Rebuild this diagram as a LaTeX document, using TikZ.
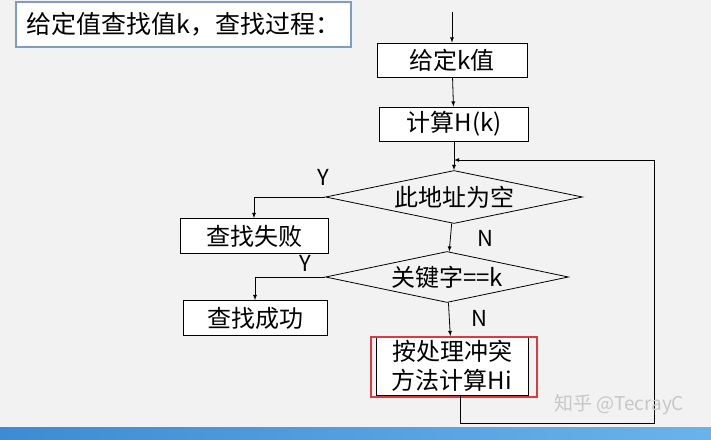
\documentclass[tikz,border=0pt]{standalone}
\usepackage{fontspec}
\setmainfont{Noto Sans CJK SC}
\usetikzlibrary{shapes.geometric}
\definecolor{slidebg}{HTML}{F2F2F2}
\definecolor{titleframe}{HTML}{7F9CC4}
\definecolor{markred}{HTML}{DE3A3E}
\definecolor{barleft}{HTML}{3D8BD3}
\definecolor{barright}{HTML}{6AB3EA}
\tikzset{
  stepbox/.style={draw, line width=0.8pt, fill=white, inner sep=0pt, font=\fontsize{24}{28}\selectfont},
  testbox/.style={diamond, draw, line width=0.8pt, fill=slidebg, inner sep=0pt, shape aspect=5,
                  font=\fontsize{24}{28}\selectfont},
  branch/.style={font=\fontsize{22}{24}\selectfont, inner sep=1pt},
  flow/.style={line width=0.8pt, ->}
}
\begin{document}
\begin{tikzpicture}[x=1pt, y=-1pt, >=latex]
    % slide background and footer bar
    \fill[slidebg] (0,0) rectangle (711,439);
    \shade[left color=barleft, right color=barright] (0,427) rectangle (711,439);
    \useasboundingbox (0,0) rectangle (711,439);

    \node[draw=titleframe, line width=1.5pt, fill=white, minimum width=335pt, minimum height=45pt, inner sep=0pt,
          font=\fontsize{25}{28}\selectfont] (title) at (183.5,24.5) {给定值查找值k，查找过程：};

    \coordinate (start) at (452,12);
    \node[stepbox, minimum width=150pt, minimum height=34pt] (givek) at (452,60) {给定k值};
    \node[stepbox, minimum width=149pt, minimum height=34pt] (hashk) at (454,124) {计算H(k)};
    \node[testbox, minimum width=257pt, minimum height=53pt] (empty) at (454,197) {此地址为空};
    \node[stepbox, minimum width=148pt, minimum height=35pt] (fail) at (254,236) {查找失败};
    \node[testbox, minimum width=243pt, minimum height=51pt] (keyeq) at (447,277) {关键字==k};
    \node[stepbox, minimum width=144pt, minimum height=35pt] (found) at (255,318) {查找成功};
    \node[stepbox, minimum width=152pt, minimum height=59pt, align=center,
          font=\fontsize{24}{29}\selectfont] (rehash) at (452,366) {按处理冲突\\方法计算Hi};
    \draw[markred, line width=2.5pt] (371,337) rectangle (537,397);

    \coordinate (merge) at (454,160);
    \coordinate (loopcorner) at (654,423);

    \draw[flow] (start) -- (givek);
    \draw[flow] (givek) -- (hashk);
    \draw[flow] (hashk) -- (empty);
    \draw[flow] (empty.west) -| (fail.north);
    \draw[flow] (empty) -- (keyeq);
    \draw[flow] (keyeq.west) -| (found.north);
    \draw[flow] (keyeq) -- (rehash);
    \draw[flow] ([xshift=8pt]rehash.south) |- (loopcorner) |- (merge);

    \node[branch] (yempty) at (323,177) {Y};
    \node[branch] (nempty) at (485,238) {N};
    \node[branch] (ykey) at (305,263) {Y};
    \node[branch] (nkey) at (479,318) {N};

    \node[text=black!22, font=\fontsize{19}{22}\selectfont] (mark) at (619,405) {知乎 @TecrayC};
\end{tikzpicture}
\end{document}
